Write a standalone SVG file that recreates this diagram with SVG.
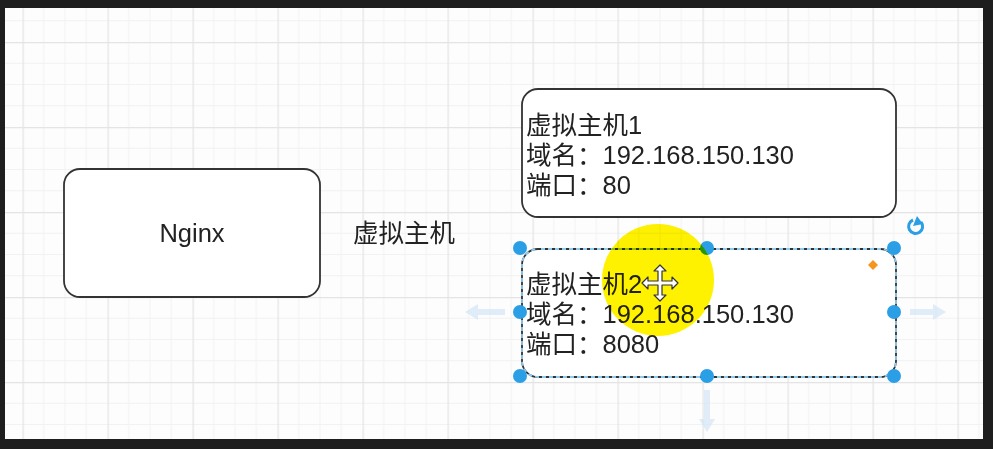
<svg xmlns="http://www.w3.org/2000/svg" width="993" height="449" viewBox="0 0 993 449">
<defs>
<style>
.box{fill:#ffffff;stroke:#333333;stroke-width:1.8}
.t{font-family:"Liberation Sans","Noto Sans CJK SC",sans-serif;font-size:25.5px;fill:#222222}
.h{fill:#2a9fe6}
.ha{fill:#d3e6f5;opacity:0.7}
</style>
<pattern id="grid" patternUnits="userSpaceOnUse" x="22.5" y="42" width="85" height="85">
<rect width="85" height="85" fill="#fdfdfd"/>
<path d="M21.25 0V85M42.5 0V85M63.75 0V85M0 21.25H85M0 42.5H85M0 63.75H85" stroke="#f2f2f2" stroke-width="1" fill="none"/>
<path d="M0.5 0V85M0 0.5H85" stroke="#e4e4e4" stroke-width="1.5" fill="none"/>
</pattern>
</defs>
<rect x="0" y="0" width="993" height="449" fill="#1e1e1e"/>
<rect x="5" y="8" width="978" height="431" fill="url(#grid)"/>

<g id="connectors"></g>

<g id="hover-arrows">
<path class="ha" d="M465 312 L478 304 L478 309 L505 309 L505 315 L478 315 L478 320 Z"/>
<path class="ha" d="M946 312 L933 304 L933 309 L910 309 L910 315 L933 315 L933 320 Z"/>
<path class="ha" d="M707 432 L699 419 L704 419 L704 390 L710 390 L710 419 L715 419 Z"/>
</g>

<g id="nginx">
<rect class="box" x="64" y="169" width="256" height="128" rx="16"/>
<text class="t" x="192" y="242" text-anchor="middle">Nginx</text>
</g>

<g id="label-vhost">
<text class="t" x="353" y="242">虚拟主机</text>
</g>

<g id="vhost1">
<rect class="box" x="522" y="89" width="374" height="128" rx="16"/>
<text class="t" x="526" y="134">虚拟主机1</text>
<text class="t" x="526" y="164">域名：192.168.150.130</text>
<text class="t" x="526" y="194">端口：80</text>
</g>

<g id="vhost2">
<rect class="box" x="522" y="249" width="374" height="128" rx="16"/>
<rect x="522" y="249" width="374" height="128" rx="16" fill="none" stroke="#8ecbf0" stroke-width="1.8" stroke-dasharray="4 3" stroke-dashoffset="4"/>
<text class="t" x="526" y="293">虚拟主机2</text>
<text class="t" x="526" y="323">域名：192.168.150.130</text>
<text class="t" x="526" y="353">端口：8080</text>
</g>

<g id="selection-handles">
<circle class="h" cx="520" cy="248" r="7"/>
<circle class="h" cx="707" cy="248" r="7"/>
<circle class="h" cx="894" cy="248" r="7"/>
<circle class="h" cx="520" cy="312" r="7"/>
<circle class="h" cx="894" cy="312" r="7"/>
<circle class="h" cx="520" cy="376" r="7"/>
<circle class="h" cx="707" cy="376" r="7"/>
<circle class="h" cx="894" cy="376" r="7"/>
<path d="M873 260 L878 265 L873 270 L868 265 Z" fill="#f7941d"/>
<path d="M921 222 A7 7 0 1 1 913 220" fill="none" stroke="#2a9fe6" stroke-width="3"/>
<path d="M917 216 L923 224 L913 226 Z" fill="#2a9fe6"/>
</g>

<g id="cursor-highlight">
<circle cx="658" cy="280" r="56" fill="#fff200" style="mix-blend-mode:multiply"/>
<path transform="translate(660,283)" d="M0 -18 L6 -12 L2 -12 L2 -2 L12 -2 L12 -6 L18 0 L12 6 L12 2 L2 2 L2 12 L6 12 L0 18 L-6 12 L-2 12 L-2 2 L-12 2 L-12 6 L-18 0 L-12 -6 L-12 -2 L-2 -2 L-2 -12 L-6 -12 Z" fill="#ffffff" stroke="#333333" stroke-width="1.2" stroke-linejoin="round"/>
</g>
</svg>
